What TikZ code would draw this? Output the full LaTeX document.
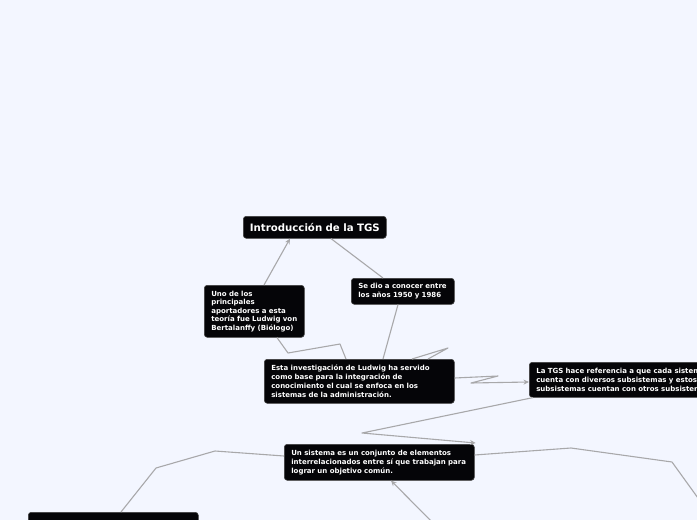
\documentclass[tikz,border=0pt]{standalone}
\usepackage{fontspec}
\setmainfont{DejaVu Sans}
\usetikzlibrary{arrows.meta}
\definecolor{bgcol}{RGB}{243,246,255}
\definecolor{boxcol}{RGB}{5,5,8}
\definecolor{linecol}{RGB}{168,168,170}
\newcommand{\myln}[1]{\mbox{#1}}
\tikzset{
  box/.style={fill=boxcol, draw=black!75, line width=0.6pt, rounded corners=3pt, text=white,
    font=\bfseries\fontsize{7}{9}\selectfont, inner xsep=7pt, inner ysep=2pt,
    align=left, anchor=north west},
  titlebox/.style={box, font=\bfseries\fontsize{10.2}{12}\selectfont, align=center, inner xsep=2pt},
  conn/.style={draw=linecol, line width=1.1pt, line join=round},
  arr/.style={conn, -{Stealth[length=5.5pt,width=5pt]}}
}
\begin{document}
\begin{tikzpicture}[x=1pt,y=-1pt]
\useasboundingbox (0,0) rectangle (697,520);
\fill[bgcol] (0,0) rectangle (697,520);

% nodes
\node[titlebox, minimum width=143pt, minimum height=22pt, text width=139pt] (n1) at (243,216) {Introducción de la TGS};
\node[box, minimum width=100pt, minimum height=52pt, text width=86pt, font=\bfseries\fontsize{7}{8.5}\selectfont] (n2) at (204,285)
  {\myln{Uno de los}\\\myln{principales}\\\myln{aportadores a esta}\\\myln{teoría fue Ludwig von}\\\myln{Bertalanffy (Biólogo)}};
\node[box, minimum width=103pt, minimum height=26pt, text width=89pt] (n3) at (351,278)
  {\myln{Se dio a conocer entre}\\\myln{los años 1950 y 1986}};
\node[box, minimum width=190pt, minimum height=44pt, text width=176pt] (n4) at (264,359)
  {\myln{Esta investigación de Ludwig ha servido}\\\myln{como base para la integración de}\\\myln{conocimiento el cual se enfoca en los}\\\myln{sistemas de la administración.}};
\node[box, minimum width=200pt, minimum height=35pt, text width=186pt] (n5) at (529,362)
  {\myln{La TGS hace referencia a que cada sistema}\\\myln{cuenta con diversos subsistemas y estos}\\\myln{subsistemas cuentan con otros subsistemas}};
\node[box, minimum width=190pt, minimum height=36pt, text width=176pt] (n6) at (284,444)
  {\myln{Un sistema es un conjunto de elementos}\\\myln{interrelacionados entre sí que trabajan para}\\\myln{lograr un objetivo común.}};
\node[box, minimum width=170pt, minimum height=40pt] (n7) at (28,512) {};

\coordinate (offR) at (716,523);
\coordinate (offB) at (434,524);

% connectors
\draw[arr] ([xshift=60pt]n2.north west) -- ([xshift=47pt]n1.south west);
\draw[conn] ([xshift=88pt]n1.south west) -- ([xshift=32pt]n3.north west);
\draw[conn] ([xshift=47pt]n3.south west) -- ([xshift=119pt]n4.north west);
\draw[conn] ([xshift=73pt]n2.south west) -- (288,353) -- (340,344) -- ([xshift=82pt]n4.north west);
\draw[conn] ([xshift=148pt]n4.north west) -- (448,348) -- ([xshift=164pt]n4.north west);
\draw[arr] ([yshift=-19pt]n4.north east) -- (498,376) -- (471,383) -- ([yshift=-20pt]n5.north west);
\draw[arr] ([xshift=4pt]n5.south west) -- (362,433) -- ([xshift=1pt,yshift=1pt]n6.north east);
\draw[conn] ([yshift=-12pt]n6.north west) -- (215,451) -- (156,468) -- ([xshift=93pt]n7.north west);
\draw[conn] ([yshift=-11pt]n6.north east) -- (571,448) -- (672,462) -- (offR);
\draw[arr] (offB) -- ([xshift=107pt]n6.south west);
\end{tikzpicture}
\end{document}
